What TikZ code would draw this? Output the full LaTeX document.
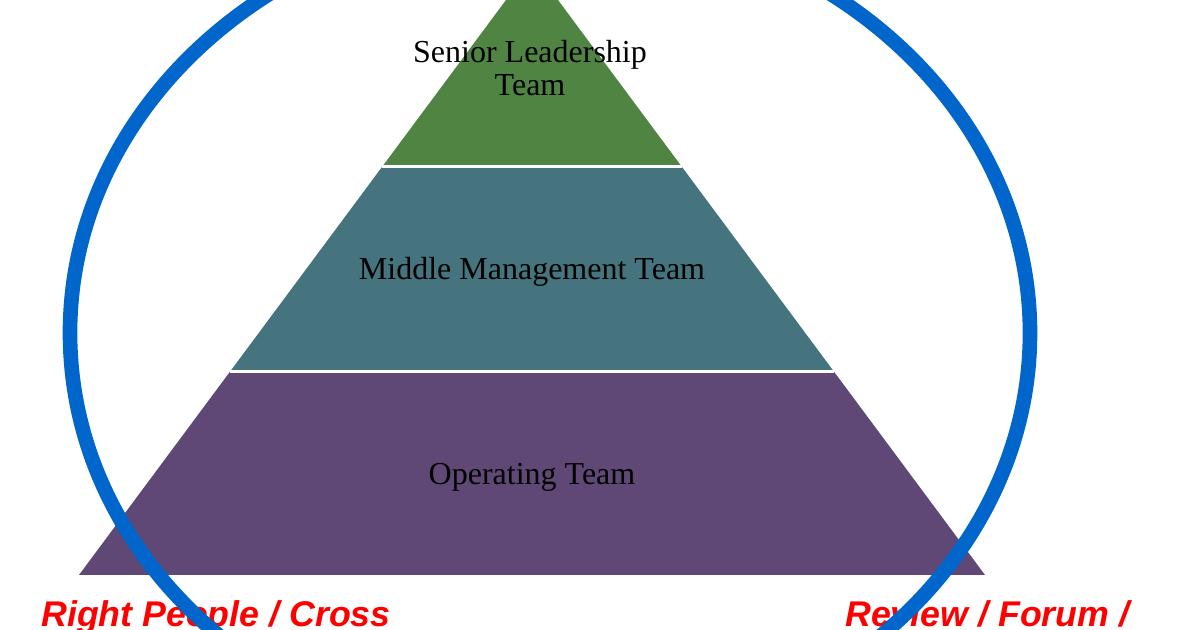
\documentclass[tikz,border=0pt]{standalone}
\usepackage{fontspec}
\setmainfont{Liberation Serif}
\newfontfamily\redfont{Liberation Sans}
\usetikzlibrary{calc}

\definecolor{tiergreen}{HTML}{4F8442}
\definecolor{tierteal}{HTML}{45747E}
\definecolor{tierpurple}{HTML}{5F4876}
\definecolor{ringblue}{HTML}{0066CC}

\begin{document}
\begin{tikzpicture}[x=0.75pt, y=-0.75pt,
  tier/.style={draw=white, line width=2.25pt},
  tierlabel/.style={font=\fontsize{24}{25}\selectfont, text=black, align=center},
  redlabel/.style={font=\redfont\bfseries\itshape\fontsize{26.8}{30}\selectfont, text=red, anchor=base west, inner sep=0pt}]
  \clip (0,0) rectangle (1200,630);

  \coordinate (apex) at (532,-35);
  \coordinate (bl) at (79,575);
  \coordinate (br) at (985,575);

  % tier corners
  \coordinate (l1) at ($(apex)!0.3303!(bl)$);
  \coordinate (r1) at ($(apex)!0.3303!(br)$);
  \coordinate (l2) at ($(apex)!0.6664!(bl)$);
  \coordinate (r2) at ($(apex)!0.6664!(br)$);

  \fill[tierpurple] (l2) -- (r2) -- (br) -- (bl) -- cycle;
  \fill[tierteal] (l1) -- (r1) -- (r2) -- (l2) -- cycle;
  \fill[tiergreen] (apex) -- (r1) -- (l1) -- cycle;
  \draw[tier] (l1) -- (r1);
  \draw[tier] (l2) -- (r2);

  \node[tierlabel] at (530,68) (senior) {Senior Leadership\\Team};
  \node[tierlabel] at (532,272) (middle) {Middle Management Team};
  \node[tierlabel] at (532,477) (operating) {Operating Team};

  \node[redlabel] at (41,627) (people) {Right People / Cross};
  \node[redlabel] at (845,627) (review) {Review / Forum /};

  \draw[ringblue, line width=11pt] (550,333) ellipse [x radius=360pt, y radius=313.5pt];

\end{tikzpicture}
\end{document}
